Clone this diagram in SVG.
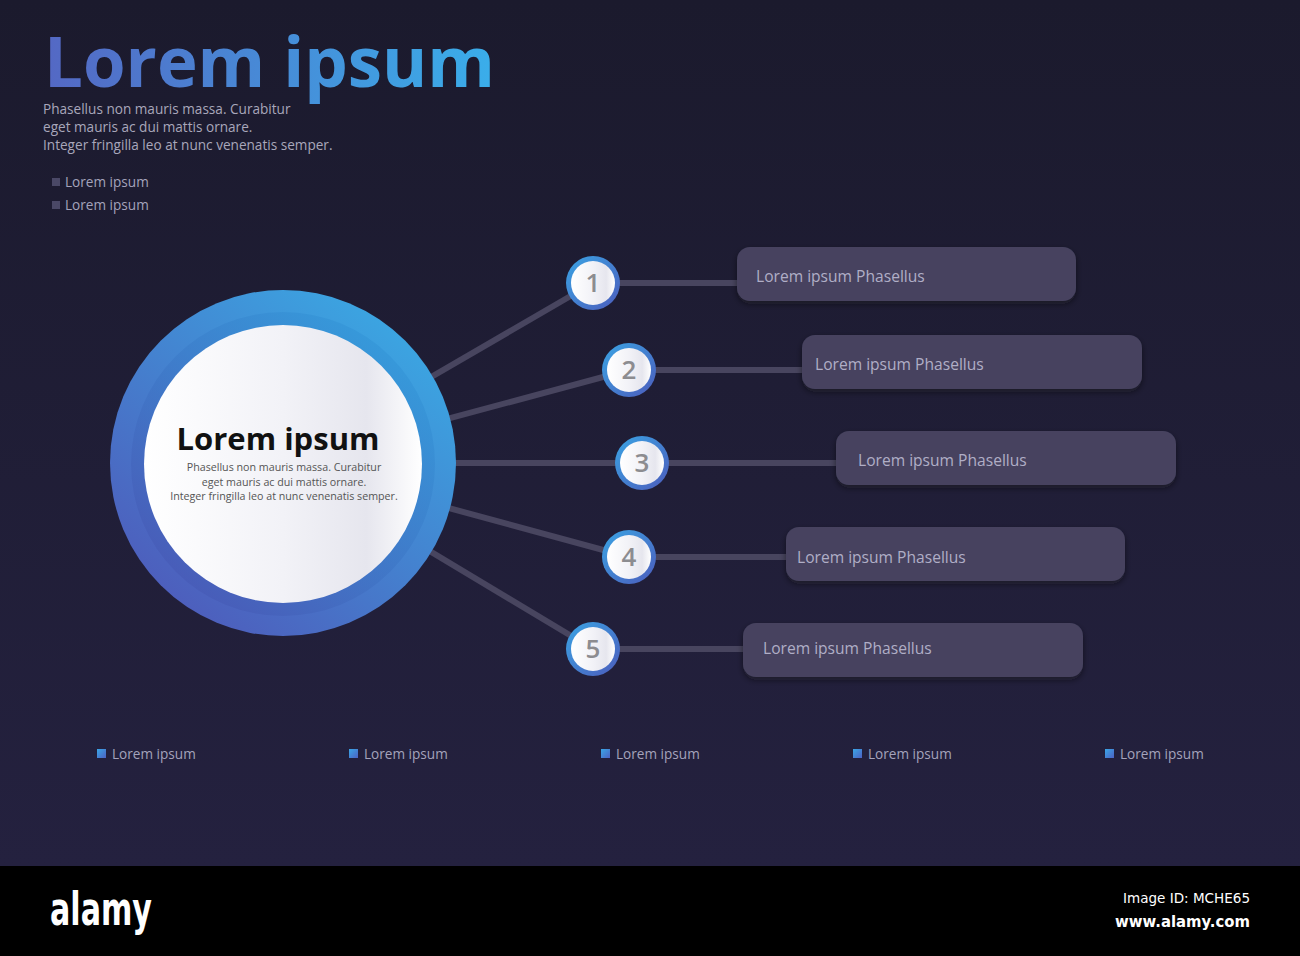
<svg xmlns="http://www.w3.org/2000/svg" width="1300" height="956" viewBox="0 0 1300 956">
<defs>
<linearGradient id="bg" x1="0" y1="0" x2="0" y2="1"><stop offset="0" stop-color="#1b1a2d"/><stop offset="1" stop-color="#24213f"/></linearGradient>
<linearGradient id="title" x1="0" y1="0" x2="1" y2="0"><stop offset="0" stop-color="#5468c4"/><stop offset="1" stop-color="#3aaeea"/></linearGradient>
<linearGradient id="ring" x1="0.2" y1="0.9" x2="0.85" y2="0.1"><stop offset="0" stop-color="#4d5fbd"/><stop offset="1" stop-color="#3ba6e2"/></linearGradient>
<linearGradient id="ring2" x1="0.2" y1="0.9" x2="0.85" y2="0.1"><stop offset="0" stop-color="#4659b5"/><stop offset="1" stop-color="#3296d8"/></linearGradient>
<linearGradient id="white" x1="0" y1="0" x2="1" y2="0"><stop offset="0" stop-color="#ffffff"/><stop offset="0.5" stop-color="#f2f2f7"/><stop offset="0.8" stop-color="#e6e6ee"/><stop offset="1" stop-color="#ffffff"/></linearGradient>
<linearGradient id="nring" x1="0" y1="0" x2="1" y2="1"><stop offset="0" stop-color="#3aa4e4"/><stop offset="1" stop-color="#4c5cbc"/></linearGradient>
<linearGradient id="sq" x1="0" y1="0" x2="1" y2="1"><stop offset="0" stop-color="#3aa6e6"/><stop offset="1" stop-color="#4c62c4"/></linearGradient>
<filter id="sh" x="-20%" y="-20%" width="140%" height="160%"><feDropShadow dx="0" dy="3" stdDeviation="3" flood-color="#0c0b18" flood-opacity="0.5"/></filter>
<style>
.sans{font-family:"Open Sans","Noto Sans","DejaVu Sans",sans-serif}
.sub{font-size:13.6px;fill:#a9a7bb}
.leg{font-size:13.6px;fill:#a4a3bb}
.box{fill:#46435f;filter:url(#sh)}
.btxt{font-size:15.6px;fill:#b0aec6}
.num{font-size:26px;font-weight:600;fill:#8c8c90;text-anchor:middle}
.conn{stroke:#48455f;stroke-width:6;fill:none}
</style>
</defs>
<rect x="0" y="0" width="1300" height="866" fill="url(#bg)"/>
<g id="header" class="sans">
<text x="44" y="87" font-size="70" font-weight="bold" fill="url(#title)" textLength="451" lengthAdjust="spacingAndGlyphs">Lorem ipsum</text>
<text class="sub" x="43" y="114">Phasellus non mauris massa.  Curabitur</text>
<text class="sub" x="43" y="132">eget mauris ac dui mattis ornare.</text>
<text class="sub" x="43" y="150">Integer fringilla leo at nunc venenatis semper.</text>
<rect x="52" y="178" width="8" height="8" fill="#4a4866"/>
<text class="leg" x="65" y="187">Lorem ipsum</text>
<rect x="52" y="201" width="8" height="8" fill="#4a4866"/>
<text class="leg" x="65" y="210">Lorem ipsum</text>
</g>
<g id="connectors">
<line class="conn" x1="283" y1="463" x2="593" y2="283"/>
<line class="conn" x1="283" y1="463" x2="629" y2="370"/>
<line class="conn" x1="283" y1="463" x2="642" y2="463"/>
<line class="conn" x1="283" y1="463" x2="629" y2="557"/>
<line class="conn" x1="283" y1="463" x2="593" y2="649"/>
<line class="conn" x1="593" y1="283" x2="745" y2="283"/>
<line class="conn" x1="629" y1="370" x2="810" y2="370"/>
<line class="conn" x1="642" y1="463" x2="844" y2="463"/>
<line class="conn" x1="629" y1="557" x2="794" y2="557"/>
<line class="conn" x1="593" y1="649" x2="751" y2="649"/>
</g>
<g id="hub" class="sans">
<circle cx="283" cy="463" r="173" fill="url(#ring)"/>
<circle cx="283" cy="464" r="152" fill="url(#ring2)" opacity="0.6"/>
<circle cx="283" cy="464" r="139" fill="url(#white)"/>
<text x="278" y="450" font-size="31" font-weight="bold" fill="#111" text-anchor="middle">Lorem ipsum</text>
<text x="284" y="471" font-size="10.7" fill="#555" text-anchor="middle">Phasellus non mauris massa.  Curabitur</text>
<text x="284" y="486" font-size="10.7" fill="#555" text-anchor="middle">eget mauris ac dui mattis ornare.</text>
<text x="284" y="500" font-size="10.7" fill="#555" text-anchor="middle">Integer fringilla leo at nunc venenatis semper.</text>
</g>
<g id="n1" class="sans"><circle cx="593" cy="283" r="27" fill="url(#nring)"/><circle cx="593" cy="283" r="22" fill="url(#white)"/><text class="num" x="593" y="292">1</text></g>
<g id="n2" class="sans"><circle cx="629" cy="370" r="27" fill="url(#nring)"/><circle cx="629" cy="370" r="22" fill="url(#white)"/><text class="num" x="629" y="379">2</text></g>
<g id="n3" class="sans"><circle cx="642" cy="463" r="27" fill="url(#nring)"/><circle cx="642" cy="463" r="22" fill="url(#white)"/><text class="num" x="642" y="472">3</text></g>
<g id="n4" class="sans"><circle cx="629" cy="557" r="27" fill="url(#nring)"/><circle cx="629" cy="557" r="22" fill="url(#white)"/><text class="num" x="629" y="566">4</text></g>
<g id="n5" class="sans"><circle cx="593" cy="649" r="27" fill="url(#nring)"/><circle cx="593" cy="649" r="22" fill="url(#white)"/><text class="num" x="593" y="658">5</text></g>
<g id="b1" class="sans"><rect class="box" x="737" y="247" width="339" height="54" rx="13"/><text class="btxt" x="756" y="282">Lorem ipsum Phasellus</text></g>
<g id="b2" class="sans"><rect class="box" x="802" y="335" width="340" height="54" rx="13"/><text class="btxt" x="815" y="370">Lorem ipsum Phasellus</text></g>
<g id="b3" class="sans"><rect class="box" x="836" y="431" width="340" height="54" rx="13"/><text class="btxt" x="858" y="466">Lorem ipsum Phasellus</text></g>
<g id="b4" class="sans"><rect class="box" x="786" y="527" width="339" height="54" rx="13"/><text class="btxt" x="797" y="563">Lorem ipsum Phasellus</text></g>
<g id="b5" class="sans"><rect class="box" x="743" y="623" width="340" height="54" rx="13"/><text class="btxt" x="763" y="654">Lorem ipsum Phasellus</text></g>
<g id="legend" class="sans">
<rect x="97" y="749" width="9" height="9" fill="url(#sq)"/><text class="leg" x="112" y="759">Lorem ipsum</text>
<rect x="349" y="749" width="9" height="9" fill="url(#sq)"/><text class="leg" x="364" y="759">Lorem ipsum</text>
<rect x="601" y="749" width="9" height="9" fill="url(#sq)"/><text class="leg" x="616" y="759">Lorem ipsum</text>
<rect x="853" y="749" width="9" height="9" fill="url(#sq)"/><text class="leg" x="868" y="759">Lorem ipsum</text>
<rect x="1105" y="749" width="9" height="9" fill="url(#sq)"/><text class="leg" x="1120" y="759">Lorem ipsum</text>
</g>
<g id="footer">
<rect x="0" y="866" width="1300" height="90" fill="#000"/>
<text x="50" y="925" font-family="'DejaVu Sans',sans-serif" font-weight="bold" font-size="46" fill="#fff" textLength="102" lengthAdjust="spacingAndGlyphs">alamy</text>
<text x="1250" y="903" font-family="'DejaVu Sans',sans-serif" font-size="14" fill="#fff" text-anchor="end" textLength="127" lengthAdjust="spacingAndGlyphs">Image ID: MCHE65</text>
<text x="1250" y="927" font-family="'DejaVu Sans',sans-serif" font-weight="bold" font-size="16" fill="#fff" text-anchor="end" textLength="135" lengthAdjust="spacingAndGlyphs">www.alamy.com</text>
</g>
</svg>
